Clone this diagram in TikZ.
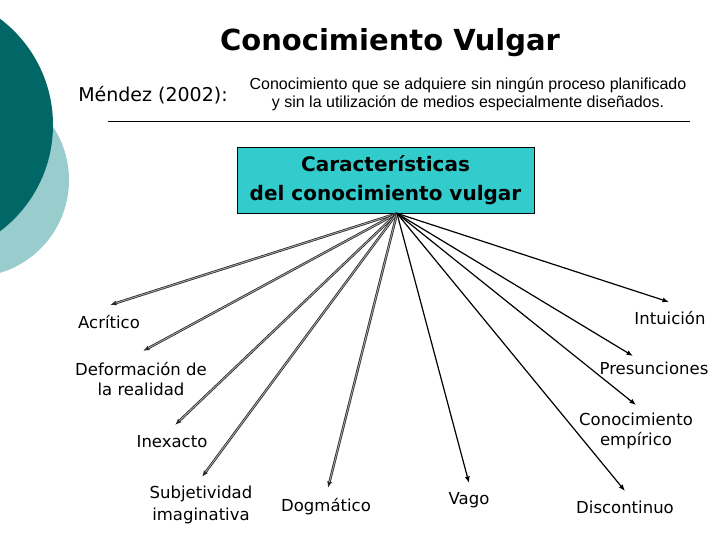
\documentclass[tikz,border=0pt]{standalone}
\usepackage{fontspec}
\setmainfont{DejaVu Sans}
\newfontfamily\arialfont{Liberation Sans}
\usetikzlibrary{arrows.meta,positioning}
\definecolor{tealdark}{RGB}{0,102,102}
\definecolor{teallight}{RGB}{153,204,204}
\definecolor{boxcyan}{RGB}{51,204,204}
\tikzset{
  >={Latex[length=6.5pt,width=5pt]},
  lbl/.style={font=\fontsize{16.5}{20}\selectfont,align=center,inner sep=1pt},
  dblarr/.style={->,line width=2.4pt,black!85,
    postaction={draw=black!35,line width=0.9pt,-,shorten >=6pt}},
  sglarr/.style={->,line width=1.2pt,black},
  headbox/.style={draw=black,line width=0.8pt,fill=boxcyan,minimum width=297pt,
    minimum height=66pt,align=center,inner sep=2pt,
    font=\bfseries\fontsize{20}{29}\selectfont},
}

\begin{document}
\begin{tikzpicture}[x=1pt,y=-1pt]
  \useasboundingbox (0,0) rectangle (728,546);
  % side decoration
  \begin{scope}
    \clip (0,0) rectangle (728,546);
    \fill[teallight] (-28,180) circle (97);
    \fill[tealdark] (-80,125) circle (133);
  \end{scope}
  % header
  \node[font=\bfseries\fontsize{29}{34}\selectfont] (title) at (390,43) {Conocimiento Vulgar};
  \node[font=\fontsize{19}{22}\selectfont] (autor) at (153,95) {Méndez (2002):};
  \node[font=\arialfont\fontsize{16}{18}\selectfont,align=center] (defin) at (468,94)
    {Conocimiento que se adquiere sin ningún proceso planificado\\
     y sin la utilización de medios especialmente diseñados.};
  \draw[line width=0.8pt] (108,121) -- (690,121);
  % central box
  \node[headbox] (box) at (385.5,180) {Características\\del conocimiento vulgar};
  \coordinate (hub) at ([xshift=11.5pt]box.south);
  % labels
  \node[lbl] (acritico) at (109,322) {Acrítico};
  \node[lbl] (deform) at (141,379) {Deformación de\\la realidad};
  \node[lbl] (inexacto) at (172,442) {Inexacto};
  \node[lbl,font=\fontsize{16.5}{22}\selectfont] (subjet) at (201,505) {Subjetividad\\imaginativa};
  \node[lbl] (dogma) at (326,507) {Dogmático};
  \node[lbl] (vago) at (469,500) {Vago};
  \node[lbl] (intuic) at (670,318) {Intuición};
  \node[lbl] (presun) at (654,368) {Presunciones};
  \node[lbl] (empir) at (636,431) {Conocimiento\\empírico};
  \node[lbl] (discont) at (625,507) {Discontinuo};
  % arrow tips
  \coordinate (t1) at (110,305);
  \coordinate (t2) at (143,351);
  \coordinate (t3) at (175,425);
  \coordinate (t4) at (202,477);
  \coordinate (t5) at (328,488);
  \coordinate (t6) at (469,483);
  \coordinate (t7) at (669,302);
  \coordinate (t8) at (633,356);
  \coordinate (t9) at (636,405);
  \coordinate (t10) at (625,491);
  % arrows
  \foreach \t in {t1,t2,t3,t4,t5}
    \draw[dblarr] (hub) -- (\t);
  \foreach \t in {t6,t7,t8,t9,t10}
    \draw[sglarr] (hub) -- (\t);
\end{tikzpicture}
\end{document}
